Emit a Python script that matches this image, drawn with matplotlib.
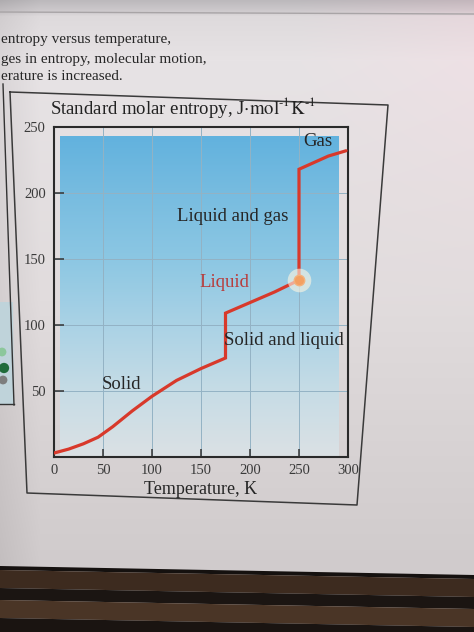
import numpy as np
import matplotlib
matplotlib.use("Agg")
import matplotlib.pyplot as plt
from matplotlib.colors import to_rgb

plt.rcParams['font.family'] = ['Liberation Serif', 'DejaVu Serif']
plt.rcParams['mathtext.fontset'] = 'stix'

# ---------------- data ----------------
temperature_K = [0, 15, 30, 45, 60, 80, 100, 125, 150, 175, 175, 200, 225, 250, 250, 265, 280, 298]
entropy_J = [3, 6, 10, 15, 23, 35, 46, 58, 67, 75, 109, 117, 125, 134, 218, 223, 228, 232]
x_ticks = [0, 50, 100, 150, 200, 250, 300]
y_ticks = [50, 100, 150, 200, 250]
phase_labels = ["Solid", "Solid and liquid", "Liquid", "Liquid and gas", "Gas"]
phase_label_T = [69, 173, 174, 182, 269]
phase_label_S = [55, 88, 132, 182, 239]
highlight_T = [250]
highlight_S = [134]
caption_lines = ["entropy versus temperature,",
                 "ges in entropy, molecular motion,",
                 "erature is increased."]

W, H = 474, 632
fig = plt.figure(figsize=(W / 100, H / 100), dpi=100)

# ---------------- photo background (page) ----------------
bg = fig.add_axes([0, 0, 1, 1])
bg.set_xlim(0, W)
bg.set_ylim(H, 0)
bg.axis('off')

yy, xx = np.mgrid[0:H, 0:W]
stops_y = [0, 10, 16, 60, 300, 565]
stops_c = ['#bcb9bc', '#cdc9cc', '#dedadc', '#e7e3e5', '#e1dcdd', '#d0cbcc']
img = np.zeros((H, W, 3))
for ch in range(3):
    img[:, :, ch] = np.interp(yy, stops_y, [to_rgb(c)[ch] for c in stops_c])
tint = np.clip((xx - 300) / 174, 0, 1) * np.clip(1 - (yy - 20) / 300, 0, 1)
img[:, :, 0] += 0.03 * tint
img[:, :, 1] -= 0.01 * tint
left = np.clip(1 - xx / 40, 0, 1)
img -= 0.05 * left[..., None]
bg.imshow(np.clip(img, 0, 1), extent=[0, W, H, 0], aspect='auto', interpolation='bilinear', zorder=0)
bg.plot([0, W], [12, 14], color='#a8a4a6', lw=1, zorder=1)

# dark strips at the bottom of the photo
for y0, y1, c in [(566, 570, '#15110f'), (570, 588, '#3d2b1f'), (588, 600, '#1b1512'),
                  (600, 618, '#4a3526'), (618, 640, '#1a1411')]:
    bg.fill([0, W, W, 0], [y0, y0 + 9, y1 + 9, y1], color=c, lw=0, zorder=1)

# neighbouring panel at left edge
bg.fill([0, 13, 14, 0], [302, 302, 404, 404], color='#bfd3da', lw=0, zorder=1)
bg.plot([3, 14], [84, 405], color='#333333', lw=1, zorder=2)
bg.plot([0, 14], [404, 404], color='#333333', lw=1, zorder=2)
bg.scatter([2, 4, 3], [352, 368, 380], s=[40, 55, 40],
           color=['#8cc79b', '#1f6b3a', '#7d7d7d'], zorder=2, lw=0)

# outer frame of the figure
bg.plot([10, 388, 357, 27, 10], [92, 105, 505, 493, 92], color='#3a3a3a', lw=1.1, zorder=2)

# caption text (fragment visible in the photo)
for i, line in enumerate(caption_lines):
    bg.text(1, [39, 60, 77][i], line, fontsize=11, color='#262626',
            va='center', ha='left', zorder=3)

bg.text(50, 108, r"Standard molar entropy, J$\cdot\mathrm{mol}^{\text{-1}}\mathrm{K}^{\text{-1}}$",
        fontsize=13.5, color='#222222', va='center', ha='left', zorder=3)

# ---------------- chart ----------------
ax = fig.add_axes([54 / W, 1 - 457 / H, 294 / W, 330 / H])
ax.set_xlim(0, 300)
ax.set_ylim(0, 250)
ax.patch.set_visible(False)

gs = np.linspace(0, 243, 200)
g_stops = [0, 50, 100, 150, 200, 243]
g_cols = ['#dbe1e4', '#c6dce6', '#aad2e5', '#8cc7e3', '#77bce0', '#62b2de']
grad = np.zeros((len(gs), 1, 3))
for ch in range(3):
    grad[:, 0, ch] = np.interp(gs, g_stops, [to_rgb(c)[ch] for c in g_cols])
ax.imshow(grad, extent=[6, 290, 0, 243], origin='lower', aspect='auto',
          interpolation='bilinear', zorder=0)

ax.set_axisbelow(True)
ax.grid(True, color='#93b2c4', lw=0.7)

ax.plot(temperature_K, entropy_J, color='#d8392b', lw=2.3,
        solid_capstyle='round', solid_joinstyle='miter', zorder=3)
ax.plot(highlight_T, highlight_S, 'o', ms=17, color='#fff6e2', alpha=0.6, mec='none', zorder=4)
ax.plot(highlight_T, highlight_S, 'o', ms=7.5, color='#f4a062', mec='#f3b27c', zorder=5)

for lab, t, s in zip(phase_labels, phase_label_T, phase_label_S):
    ax.text(t, s, lab, fontsize=13.5,
            color='#b83c3c' if lab == 'Liquid' else '#262626',
            ha='left' if lab == 'Solid and liquid' else 'center', va='center', zorder=6)

ax.set_xticks(x_ticks)
ax.set_yticks(y_ticks)
ax.tick_params(axis='both', direction='in', width=1.1, color='#333333',
               labelsize=10.5, labelcolor='#3a3a3a')
ax.tick_params(axis='x', length=6, pad=5)
ax.tick_params(axis='y', length=7, pad=6)
for s in ax.spines.values():
    s.set_linewidth(1.5)
    s.set_color('#2a2a2a')

ax.set_xlabel("Temperature, K", fontsize=13, color='#262626', labelpad=3)

fig.savefig("out.png", dpi=100)
